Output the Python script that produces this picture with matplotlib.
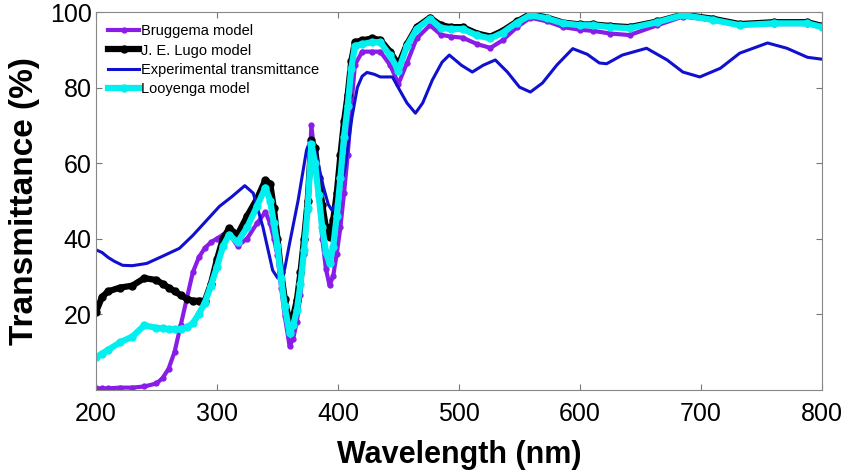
import numpy as np
import matplotlib
matplotlib.use('Agg')
import matplotlib.pyplot as plt

matplotlib.rcParams['font.family'] = ['Liberation Sans', 'DejaVu Sans']

# wavelength grid shared by the three models (nm)
wl_model = [200, 205, 210, 220, 230, 240, 250, 255, 260, 265, 270, 275, 280, 285, 290, 295,
            300, 305, 310, 317, 325, 333, 340, 344, 347, 350, 353, 356, 360, 363, 366, 369,
            372, 375, 378, 381, 384, 387, 390, 393, 396, 399, 402, 405, 408, 411, 414, 420,
            428, 435, 443, 450, 457, 465, 476, 485, 493, 503, 515, 526, 536, 548, 559, 573,
            586, 600, 611, 625, 641, 664, 685, 710, 732, 760, 788, 800]

bruggema = [0.3, 0.3, 0.3, 0.5, 0.5, 0.8, 1.6, 3, 5.5, 10, 17, 24, 31, 35, 37.5, 39,
            40, 41, 41.3, 38, 40, 44, 47, 44, 40, 35.5, 27, 19.5, 11.5, 13.5, 18, 25,
            36, 47.5, 70, 61, 51, 40, 32, 27.6, 30, 36, 43, 52, 62, 75, 86, 89.5,
            89.5, 89.5, 86, 81, 86.5, 93, 96.5, 94, 93.5, 93.2, 91.5, 90.5, 92.5, 96, 98.5, 97.5,
            96, 95.3, 95, 94.3, 93.9, 96.5, 98.8, 97.8, 96.5, 96.8, 96.8, 96]

lugo = [20.5, 24.5, 26, 27, 27.5, 29.5, 29, 28, 27, 26, 25, 24, 23.5, 23.5, 23.5, 28,
        34.5, 40, 42.7, 41, 46, 50.5, 55.5, 54.5, 48, 40, 31, 24, 17.5, 19.5, 23.6, 31,
        40, 50, 66, 64, 56, 49, 43, 40.5, 44.8, 52, 62, 71, 78, 87, 92, 92.5,
        93, 92.6, 89.5, 86, 91.5, 96, 98.5, 96.5, 96, 96, 94.3, 93.5, 95, 97.5, 99.5, 98.5,
        97.2, 96.7, 96.7, 96.3, 96, 97.5, 99.3, 98.2, 96.8, 97.3, 97.3, 96.3]

looyenga = [8.5, 9.5, 10.5, 12.5, 14, 17, 16.3, 16.2, 16, 16, 16, 16.5, 17.5, 20, 23, 27.5,
            32.5, 38, 41, 39, 43, 48.5, 53.5, 50, 44, 38, 29.5, 22, 15, 17, 21, 28,
            37, 48, 65, 60, 51.5, 43, 36.5, 33.5, 37.7, 46, 56, 67, 75, 85, 91, 91.5,
            92, 92, 88.5, 84.5, 91, 95.5, 98.2, 95.8, 95.5, 95.5, 93.8, 93, 94.5, 97.2, 99.2, 98.3,
            97, 96.5, 96.5, 96, 95.7, 97.3, 99.2, 97.9, 96.5, 97, 97, 96]

# experimental curve
wl_exp = [200, 205, 210, 215, 222, 230, 242, 255, 269, 280, 292, 302, 312, 323, 330, 338,
          346, 350, 353, 356, 360, 367, 374, 377, 380, 383, 388, 392, 395, 400, 406, 411.5,
          416, 420, 424, 430, 435, 445, 451, 457, 464, 470, 478, 486, 492, 502, 511, 520,
          530, 540, 550, 559, 569, 581, 594, 606, 616, 622, 635, 655, 672, 685, 699, 716,
          732, 755, 771, 788, 800]
experimental = [37, 36.3, 35, 34, 32.9, 32.8, 33.4, 35.3, 37.4, 40.8, 45, 48.5, 51, 54, 52, 43,
                31.6, 29.6, 29, 32, 38.7, 50, 63.4, 66, 64.5, 60.7, 53.6, 49, 47.5, 50, 59, 72,
                80, 83, 84, 83.5, 82.8, 82.8, 79.3, 75.9, 73.2, 75.9, 82, 86.7, 88.6, 85.9, 84.1, 85.9,
                87.3, 84.1, 80.1, 78.8, 81.2, 86, 90.3, 88.8, 86.5, 86.3, 88.6, 90.4, 87.3, 84.1, 82.8, 85.1,
                89.1, 91.8, 90.4, 88, 87.5]

fig = plt.figure(figsize=(8.47, 4.75), dpi=100)
ax = fig.add_axes([0.1133, 0.18, 0.8572, 0.7947])

ax.plot(wl_model, bruggema, color='#8A1CE8', lw=3, marker='o', ms=3.5, label='Bruggema model')
ax.plot(wl_model, lugo, color='black', lw=4.5, marker='o', ms=5, label='J. E. Lugo model')
ax.plot(wl_exp, experimental, color='#1010D0', lw=2.2, label='Experimental transmittance')
ax.plot(wl_model, looyenga, color='#00F0F0', lw=4.5, marker='o', ms=5, label='Looyenga model')

ax.set_xlim(200, 800)
ax.set_ylim(0, 100)
ax.set_xticks(range(200, 801, 100))
ax.set_yticks([20, 40, 60, 80, 100])
ax.tick_params(direction='in', top=True, right=True, labelsize=18, length=4, color='#777777')
ax.tick_params(axis='x', pad=9)
ax.tick_params(axis='y', pad=3)
for s in ax.spines.values():
    s.set_color('#888888')

ax.set_xlabel('Wavelength (nm)', fontsize=22, fontweight='bold', labelpad=10)
ax.set_ylabel('Transmittance (%)', fontsize=24, fontweight='bold', labelpad=7)

ax.legend(loc='upper left', frameon=False, fontsize=10.5, handlelength=2.1,
          borderaxespad=0.45, labelspacing=0.35, handletextpad=0.15,
          bbox_to_anchor=(0.0, 1.0))

fig.savefig('out.png', dpi=100)
